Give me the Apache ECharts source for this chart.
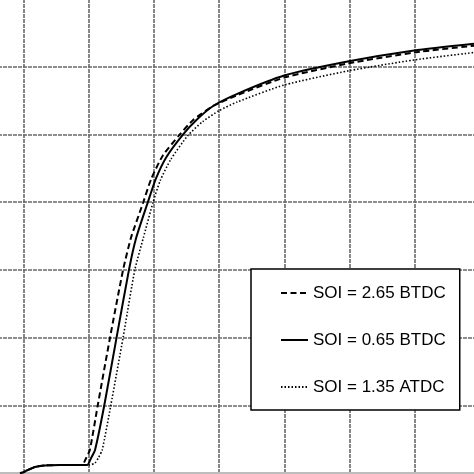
<!DOCTYPE html>
<html>
<head>
<meta charset="utf-8">
<script src="https://cdn.jsdelivr.net/npm/echarts@6/dist/echarts.min.js"></script>
<style>html,body{margin:0;padding:0;background:#fff;overflow:hidden;width:474px;height:474px;position:relative;}
#c{position:absolute;left:-42px;top:-1px;width:522px;height:476px;}</style>
</head>
<body>
<div id="c"></div>
<script>
// Series names (legend)
const seriesNames = ['SOI = 2.65 BTDC', 'SOI = 0.65 BTDC', 'SOI = 1.35 ATDC'];
// Crank-angle-like x values and curve values (arbitrary units)
const soi265 = [[9.5,0],[10.0,0.1],[10.7,0.44],[11.8,0.89],[13.3,1.11],[15.6,1.18],[19.0,1.18],[19.5,1.92],[20.2,3.4],[21.4,9.9],[23.3,20.0],[25.3,30.0],[26.5,34.7],[28.4,40.0],[29.6,43.4],[31.4,46.9],[34.0,50.0],[36.0,52.1],[39.1,54.2],[42.8,55.8],[50.0,58.4],[59.9,60.5],[69.9,62.1],[79.1,63.1]];
const soi065 = [[9.5,0],[10.0,0.1],[10.7,0.44],[11.8,0.89],[13.3,1.11],[15.6,1.18],[19.8,1.18],[20.4,2.22],[21.0,3.4],[22.4,9.9],[24.3,20.0],[26.2,30.0],[27.3,34.7],[29.1,40.0],[30.3,43.4],[31.9,46.6],[34.5,50.0],[36.5,52.1],[39.1,54.2],[42.8,56.0],[50.0,58.7],[59.9,60.8],[69.9,62.4],[79.1,63.4]];
const soi135 = [[9.5,0],[10.0,0.1],[10.7,0.44],[11.8,0.89],[13.3,1.11],[15.6,1.18],[20.2,1.18],[21.0,1.48],[21.5,2.22],[22.1,3.4],[23.4,9.9],[25.3,20.0],[27.1,30.0],[28.4,34.7],[29.9,40.0],[31.0,43.2],[32.6,46.3],[35.2,49.8],[37.5,51.9],[40.0,53.5],[42.8,54.8],[50.0,57.3],[59.9,59.4],[69.9,61.0],[79.1,62.1]];

const chart = echarts.init(document.getElementById('c'), null, {renderer: 'canvas'});
const gridLine = {show: true, lineStyle: {color: '#6a6a6a', width: 1.6, type: [4, 1]}};
chart.setOption({
  animation: false,
  backgroundColor: '#fff',
  grid: {left: 0, right: 0, top: 0, bottom: 2, containLabel: false},
  xAxis: {
    type: 'value', min: 0, max: 80, interval: 10,
    axisLine: {show: true, onZero: false, lineStyle: {color: '#bdbdbd', width: 3}},
    axisTick: {show: false}, axisLabel: {show: false},
    splitLine: gridLine
  },
  yAxis: {
    type: 'value', min: 0, max: 70, interval: 10,
    axisLine: {show: false}, axisTick: {show: false}, axisLabel: {show: false},
    splitLine: gridLine
  },
  legend: {
    left: 293, top: 270, orient: 'vertical',
    data: seriesNames,
    backgroundColor: '#fff', borderColor: '#000', borderWidth: 1.5, borderRadius: 0,
    padding: [14, 14, 13, 29],
    itemWidth: 27, itemHeight: 14, itemGap: 27, itemStyle: {opacity: 0},
    textStyle: {fontFamily: 'Liberation Sans, Arial, sans-serif', fontSize: 17, color: '#000', lineHeight: 20},
    selectedMode: false
  },
  series: [
    {name: seriesNames[0], type: 'line', data: soi265, symbol: 'none', smooth: 0.2, z: 3,
     lineStyle: {color: '#000', width: 2, type: [6, 3.5]}},
    {name: seriesNames[1], type: 'line', data: soi065, symbol: 'none', smooth: 0.2, z: 4,
     lineStyle: {color: '#000', width: 2, type: 'solid'}},
    {name: seriesNames[2], type: 'line', data: soi135, symbol: 'none', smooth: 0.2, z: 3,
     lineStyle: {color: '#000', width: 1.6, type: [1.5, 2]}}
  ]
});
</script>
</body>
</html>
